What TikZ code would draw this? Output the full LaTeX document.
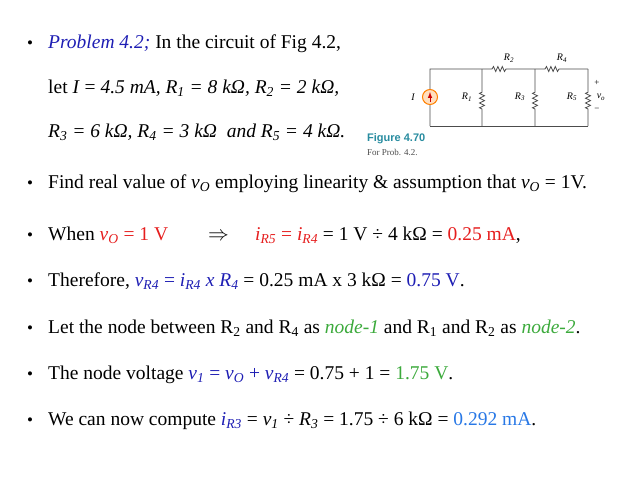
\documentclass[tikz,border=0pt]{standalone}
\usepackage{fontspec}
\setmainfont{Liberation Serif}
\newfontfamily\sansb{Liberation Sans}
\begin{document}
\begin{tikzpicture}[x=1pt,y=-1pt,
  txt/.style={anchor=base west,inner sep=0pt,font=\fontsize{19.5}{22}\selectfont},
  bul/.style={anchor=base,inner sep=0pt,font=\fontsize{17}{20}\selectfont},
  wire/.style={draw=black!70,line width=0.8pt},
  lab/.style={font=\fontsize{10}{11}\selectfont\itshape,inner sep=1pt}]
\definecolor{rd}{RGB}{230,30,30}
\definecolor{bl}{RGB}{30,30,180}
\definecolor{gr}{RGB}{60,170,60}
\definecolor{lb}{RGB}{40,120,230}
\definecolor{tl}{RGB}{40,140,160}
\useasboundingbox (0,0) rectangle (638,493);
\fill[white] (0,0) rectangle (638,493);
% text
\foreach \y/\n in {48/b1,188/b2,240/b3,286/b4,333/b5,379/b6,425/b7}{\node[bul] (\n) at (30,\y) {•};}
\node[txt] (t1) at (48,48) {\textcolor{bl}{\textit{Problem 4.2;}} In the circuit of Fig 4.2,};
\node[txt] (t2) at (48,93) {let \textit{I} = \textit{4.5 mA, R\textsubscript{1} = 8 kΩ, R\textsubscript{2} = 2 kΩ,}};
\node[txt] (t3) at (48,137) {\textit{R\textsubscript{3} = 6 kΩ, R\textsubscript{4} = 3 kΩ\ \ and R\textsubscript{5} = 4 kΩ.}};
\node[txt] (t4) at (48,188) {Find real value of \textit{v\textsubscript{O}} employing linearity \& assumption that \textit{v\textsubscript{O}} = 1V.};
\node[txt] (t5) at (48,240) {When \textcolor{rd}{\textit{v\textsubscript{O}} = 1 V}};
\node[txt] (t5b) at (208,240) {$\Rightarrow$};
\node[txt] (t5c) at (255,240) {\textcolor{rd}{\textit{i\textsubscript{R5}} = \textit{i\textsubscript{R4}}} = 1 V ÷ 4 kΩ = \textcolor{rd}{0.25 mA},};
\node[txt] (t6) at (48,286) {Therefore, \textcolor{bl}{\textit{v\textsubscript{R4}} = \textit{i\textsubscript{R4} x R\textsubscript{4}}} = 0.25 mA x 3 kΩ = \textcolor{bl}{0.75 V}.};
\node[txt] (t7) at (48,333) {Let the node between R\textsubscript{2} and R\textsubscript{4} as \textcolor{gr}{\textit{node-1}} and R\textsubscript{1} and R\textsubscript{2} as \textcolor{gr}{\textit{node-2}}.};
\node[txt] (t8) at (48,379) {The node voltage \textcolor{bl}{\textit{v\textsubscript{1}} = \textit{v\textsubscript{O}} + \textit{v\textsubscript{R4}}} = 0.75 + 1 = \textcolor{gr}{1.75 V}.};
\node[txt] (t9) at (48,425) {We can now compute \textcolor{bl}{\textit{i\textsubscript{R3}}} = \textit{v\textsubscript{1}} ÷ \textit{R\textsubscript{3}} = 1.75 ÷ 6 kΩ = \textcolor{lb}{0.292 mA}.};
% circuit
\coordinate (tl) at (430,69); \coordinate (bl0) at (430,126);
\coordinate (n2) at (482,69); \coordinate (n1) at (535,69); \coordinate (n3) at (588,69);
\coordinate (g5) at (588,126);
\draw[wire] (bl0) -- (tl) -- (n2) -- ++(10,0) -- ++(1.5,-2.5) -- ++(2.2,5) -- ++(2.2,-5) -- ++(2.2,5) -- ++(2.2,-5) -- ++(2.2,5) -- ++(1.5,-2.5) -- (n1)
  -- ++(10,0) -- ++(1.5,-2.5) -- ++(2.2,5) -- ++(2.2,-5) -- ++(2.2,5) -- ++(2.2,-5) -- ++(2.2,5) -- ++(1.5,-2.5) -- (n3);
\draw[wire] (bl0) -- (g5);
\foreach \x in {482,535,588}{\draw[wire] (\x,126) -- (\x,109) -- ++(-2.5,-1.2) -- ++(5,-2.4) -- ++(-5,-2.4) -- ++(5,-2.4) -- ++(-5,-2.4) -- ++(5,-2.4) -- ++(-5,-2.4) -- ++(2.5,-1.2) -- (\x,69);}
\node[circle,draw=orange,line width=1pt,fill=orange!25,minimum size=15pt,inner sep=0pt] (src) at (430,97) {};
\draw[-latex,red!80!black,line width=1pt] (430,102) -- (430,92);
\node[lab] (lI) at (413,97) {I};
\node[lab] (l1) at (467,97) {R\textsubscript{1}};
\node[lab] (l3) at (520,97) {R\textsubscript{3}};
\node[lab] (l5) at (572,97) {R\textsubscript{5}};
\node[lab] (l2) at (509,58) {R\textsubscript{2}};
\node[lab] (l4) at (562,58) {R\textsubscript{4}};
\node[lab,font=\fontsize{9}{10}\selectfont] (pl) at (597,83) {+};
\node[lab] (vo) at (601,97) {v\textsubscript{o}};
\node[lab,font=\fontsize{9}{10}\selectfont] (mn) at (597,110) {−};
\node[anchor=base west,inner sep=0pt,text=tl,font=\sansb\bfseries\fontsize{11}{12}\selectfont] (fig) at (367,141) {Figure 4.70};
\node[anchor=base west,inner sep=0pt,font=\fontsize{9}{10}\selectfont,text=black!70] (fp) at (367,155) {For Prob. 4.2.};
\end{tikzpicture}
\end{document}
